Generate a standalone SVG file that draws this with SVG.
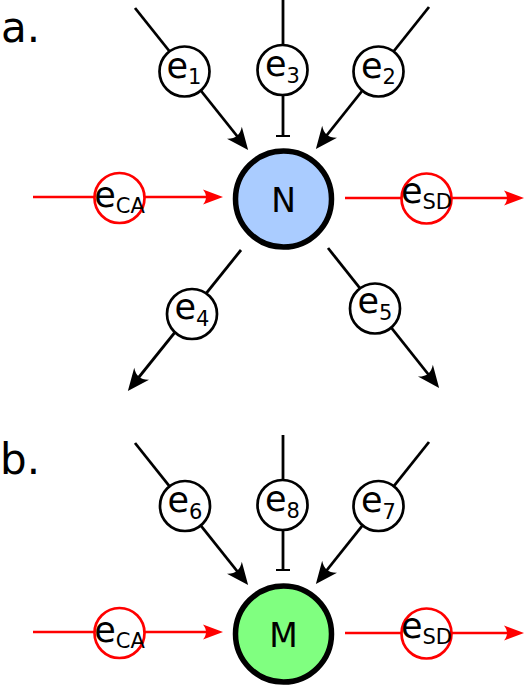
<svg xmlns="http://www.w3.org/2000/svg" width="525" height="685" viewBox="0 0 525 685">
<style>
.bg{fill:#ffffff}
.ln{stroke:#000;stroke-width:2.8;fill:none}
.rl{stroke:#ff0000;stroke-width:2.6;fill:none}
.ec{fill:#fff;stroke:#000;stroke-width:2.7}
.rc{fill:#fff;stroke:#ff0000;stroke-width:2.7}
.t{font-family:"DejaVu Sans","Liberation Sans",sans-serif;fill:#000;text-anchor:middle}
.e{font-size:35px}
.s{font-size:21px}
.lab{font-family:"DejaVu Sans","Liberation Sans",sans-serif;font-size:42px;fill:#000}
</style>
<defs>
<marker id="ab" markerUnits="userSpaceOnUse" orient="auto" refX="-5" refY="0" overflow="visible">
<path d="M0,0 L-22,-9.5 C-16.5,-3 -16.5,3 -22,9.5 Z" fill="#000"/>
</marker>
<marker id="ar" markerUnits="userSpaceOnUse" orient="auto" refX="-5" refY="0" overflow="visible">
<path d="M0,0 L-20,-7.5 C-16,-2.5 -16,2.5 -20,7.5 Z" fill="#ff0000"/>
</marker>
</defs>
<rect class="bg" x="0" y="0" width="525" height="685"/>
<text class="lab" x="1" y="42">a.</text>
<text class="lab" x="0" y="474">b.</text>

<g id="part-a">
<g id="connectors-a">
<line class="ln" x1="135" y1="8" x2="245" y2="146" marker-end="url(#ab)"/>
<line class="ln" x1="429" y1="7" x2="319" y2="145" marker-end="url(#ab)"/>
<line class="ln" x1="283" y1="0" x2="283" y2="136"/>
<line class="ln" x1="276" y1="136" x2="290" y2="136" style="stroke-width:2"/>
<line class="ln" x1="241" y1="250" x2="131" y2="387" marker-end="url(#ab)"/>
<line class="ln" x1="328" y1="248" x2="436" y2="384" marker-end="url(#ab)"/>
<line class="rl" x1="33" y1="197" x2="218" y2="197" marker-end="url(#ar)"/>
<line class="rl" x1="345" y1="198" x2="519" y2="198" marker-end="url(#ar)"/>
</g>
<g id="N">
<circle cx="283.5" cy="199" r="48" fill="#aaccff" stroke="#000" stroke-width="5.5"/>
<text class="t" x="283.5" y="212" style="font-size:33px">N</text>
</g>
<g id="e1">
<circle class="ec" cx="184.5" cy="71.5" r="25"/>
<text class="t" x="184" y="77.5"><tspan class="e">e</tspan><tspan class="s" dy="6">1</tspan></text>
</g>
<g id="e3">
<circle class="ec" cx="282.5" cy="70" r="25"/>
<text class="t" x="282.5" y="75.5"><tspan class="e">e</tspan><tspan class="s" dy="7">3</tspan></text>
</g>
<g id="e2">
<circle class="ec" cx="378.5" cy="71.5" r="25"/>
<text class="t" x="378.5" y="77.5"><tspan class="e">e</tspan><tspan class="s" dy="6">2</tspan></text>
</g>
<g id="e4">
<circle class="ec" cx="192" cy="314" r="25"/>
<text class="t" x="192" y="318.5"><tspan class="e">e</tspan><tspan class="s" dy="7">4</tspan></text>
</g>
<g id="e5">
<circle class="ec" cx="375" cy="308.5" r="25"/>
<text class="t" x="375" y="313"><tspan class="e">e</tspan><tspan class="s" dy="7">5</tspan></text>
</g>
<g id="eCA-a">
<circle class="rc" cx="119.5" cy="198" r="25"/>
<text class="t" x="119.5" y="206.5"><tspan class="e">e</tspan><tspan class="s" dy="6.5">CA</tspan></text>
</g>
<g id="eSD-a">
<circle class="rc" cx="426.5" cy="198.5" r="25"/>
<text class="t" x="426.5" y="203"><tspan class="e">e</tspan><tspan class="s" dy="6">SD</tspan></text>
</g>
</g>

<g id="part-b" transform="translate(0,435)">
<g id="connectors-b">
<line class="ln" x1="135" y1="8" x2="245" y2="146" marker-end="url(#ab)"/>
<line class="ln" x1="429" y1="7" x2="319" y2="145" marker-end="url(#ab)"/>
<line class="ln" x1="283" y1="0" x2="283" y2="135"/>
<line class="ln" x1="276" y1="135" x2="290" y2="135" style="stroke-width:2"/>
<line class="rl" x1="33" y1="197" x2="218" y2="197" marker-end="url(#ar)"/>
<line class="rl" x1="345" y1="198" x2="519" y2="198" marker-end="url(#ar)"/>
</g>
<g id="M">
<circle cx="283.5" cy="199" r="48" fill="#80ff80" stroke="#000" stroke-width="5.5"/>
<text class="t" x="283.5" y="212" style="font-size:33px">M</text>
</g>
<g id="e6">
<circle class="ec" cx="185" cy="71" r="25"/>
<text class="t" x="185" y="77"><tspan class="e">e</tspan><tspan class="s" dy="7">6</tspan></text>
</g>
<g id="e8">
<circle class="ec" cx="282.5" cy="70" r="25"/>
<text class="t" x="282.5" y="75.5"><tspan class="e">e</tspan><tspan class="s" dy="7">8</tspan></text>
</g>
<g id="e7">
<circle class="ec" cx="378.5" cy="71" r="25"/>
<text class="t" x="378.5" y="77"><tspan class="e">e</tspan><tspan class="s" dy="7">7</tspan></text>
</g>
<g id="eCA-b">
<circle class="rc" cx="119.5" cy="198" r="25"/>
<text class="t" x="119.5" y="206.5"><tspan class="e">e</tspan><tspan class="s" dy="6.5">CA</tspan></text>
</g>
<g id="eSD-b">
<circle class="rc" cx="426.5" cy="198.5" r="25"/>
<text class="t" x="426.5" y="203"><tspan class="e">e</tspan><tspan class="s" dy="6">SD</tspan></text>
</g>
</g>
</svg>
